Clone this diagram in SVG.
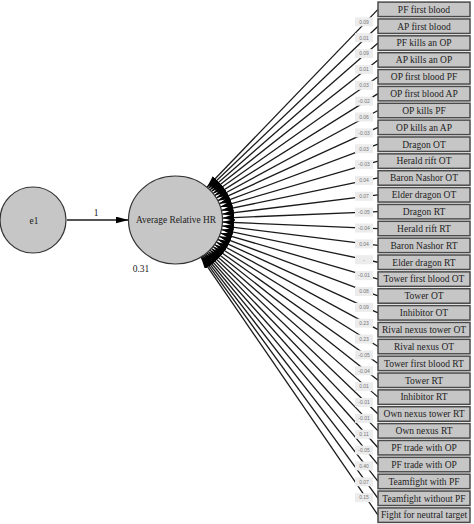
<svg xmlns="http://www.w3.org/2000/svg" width="474" height="524" viewBox="0 0 474 524">
<style>
.bg{fill:#ffffff}
.box rect{fill:#c6c6c6;stroke:#4a4a4a;stroke-width:1.5}
.box text{font-family:"Liberation Serif","Times New Roman",serif;font-size:9.5px;fill:#222;text-anchor:middle}
.circ{fill:#c6c6c6;stroke:#333;stroke-width:1.2}
.ntext{font-family:"Liberation Serif","Times New Roman",serif;font-size:9.4px;fill:#222;text-anchor:middle}
.conn line{stroke:#1a1a1a;stroke-width:1.3;marker-end:url(#ah)}
.lab rect{fill:#ececec}
.lab text{font-family:"Liberation Sans",Arial,sans-serif;font-size:5px;fill:#777;text-anchor:middle}
</style>
<defs>
<marker id="ah" markerUnits="userSpaceOnUse" viewBox="0 0 12 7" refX="12" refY="3.5" markerWidth="12" markerHeight="7" orient="auto">
<path d="M0,0 L12,3.5 L0,7 z" fill="#000"/>
</marker>
<marker id="ah2" markerUnits="userSpaceOnUse" viewBox="0 0 13 7" refX="13" refY="3.5" markerWidth="13" markerHeight="7" orient="auto">
<path d="M0,0 L13,3.5 L0,7 z" fill="#000"/>
</marker>
</defs>
<rect class="bg" width="474" height="524"/>

<g id="connectors" class="conn">
<line x1="67" y1="220" x2="128.5" y2="220" style="marker-end:url(#ah2)"/>
<line x1="378" y1="9.35" x2="206.94" y2="187.29"/>
<line x1="378" y1="26.21" x2="208.37" y2="188.55"/>
<line x1="378" y1="43.07" x2="209.86" y2="189.98"/>
<line x1="378" y1="59.93" x2="211.41" y2="191.61"/>
<line x1="378" y1="76.79" x2="213.0" y2="193.48"/>
<line x1="378" y1="93.65" x2="214.61" y2="195.60"/>
<line x1="378" y1="110.51" x2="216.2" y2="197.99"/>
<line x1="378" y1="127.37" x2="217.73" y2="200.68"/>
<line x1="378" y1="144.23" x2="219.14" y2="203.67"/>
<line x1="378" y1="161.09" x2="220.38" y2="206.94"/>
<line x1="378" y1="177.95" x2="221.38" y2="210.47"/>
<line x1="378" y1="194.81" x2="222.09" y2="214.20"/>
<line x1="378" y1="211.67" x2="222.45" y2="218.07"/>
<line x1="378" y1="228.53" x2="222.45" y2="221.98"/>
<line x1="378" y1="245.39" x2="222.08" y2="225.84"/>
<line x1="378" y1="262.25" x2="221.38" y2="229.57"/>
<line x1="378" y1="279.11" x2="220.37" y2="233.10"/>
<line x1="378" y1="295.97" x2="219.13" y2="236.37"/>
<line x1="378" y1="312.83" x2="217.71" y2="239.35"/>
<line x1="378" y1="329.69" x2="216.18" y2="242.04"/>
<line x1="378" y1="346.55" x2="214.59" y2="244.43"/>
<line x1="378" y1="363.41" x2="212.98" y2="246.55"/>
<line x1="378" y1="380.27" x2="211.39" y2="248.41"/>
<line x1="378" y1="397.13" x2="209.84" y2="250.04"/>
<line x1="378" y1="413.99" x2="208.35" y2="251.47"/>
<line x1="378" y1="430.85" x2="206.92" y2="252.72"/>
<line x1="378" y1="447.71" x2="205.57" y2="253.81"/>
<line x1="378" y1="464.57" x2="204.29" y2="254.78"/>
<line x1="378" y1="481.43" x2="203.09" y2="255.62"/>
<line x1="378" y1="498.29" x2="201.96" y2="256.36"/>
<line x1="378" y1="515.15" x2="200.90" y2="257.02"/>
</g>

<text class="ntext" x="96" y="215.5" style="font-size:9.5px">1</text>
<text class="ntext" x="141" y="272" style="font-size:9.5px">0.31</text>

<g id="labels" class="lab">
<g transform="translate(364,21.83)"><rect x="-9" y="-4.5" width="18" height="9"/><text y="1.8">0.09</text></g>
<g transform="translate(364,37.69)"><rect x="-9" y="-4.5" width="18" height="9"/><text y="1.8">0.01</text></g>
<g transform="translate(364,53.56)"><rect x="-9" y="-4.5" width="18" height="9"/><text y="1.8">0.09</text></g>
<g transform="translate(364,69.42)"><rect x="-9" y="-4.5" width="18" height="9"/><text y="1.8">0.01</text></g>
<g transform="translate(364,85.28)"><rect x="-9" y="-4.5" width="18" height="9"/><text y="1.8">0.03</text></g>
<g transform="translate(364,101.14)"><rect x="-9" y="-4.5" width="18" height="9"/><text y="1.8">-0.02</text></g>
<g transform="translate(364,117.00)"><rect x="-9" y="-4.5" width="18" height="9"/><text y="1.8">0.06</text></g>
<g transform="translate(364,132.86)"><rect x="-9" y="-4.5" width="18" height="9"/><text y="1.8">-0.03</text></g>
<g transform="translate(364,148.72)"><rect x="-9" y="-4.5" width="18" height="9"/><text y="1.8">0.03</text></g>
<g transform="translate(364,164.58)"><rect x="-9" y="-4.5" width="18" height="9"/><text y="1.8">-0.03</text></g>
<g transform="translate(364,180.44)"><rect x="-9" y="-4.5" width="18" height="9"/><text y="1.8">0.04</text></g>
<g transform="translate(364,196.30)"><rect x="-9" y="-4.5" width="18" height="9"/><text y="1.8">0.07</text></g>
<g transform="translate(364,212.16)"><rect x="-9" y="-4.5" width="18" height="9"/><text y="1.8">-0.05</text></g>
<g transform="translate(364,228.02)"><rect x="-9" y="-4.5" width="18" height="9"/><text y="1.8">-0.04</text></g>
<g transform="translate(364,243.89)"><rect x="-9" y="-4.5" width="18" height="9"/><text y="1.8">0.04</text></g>
<g transform="translate(364,259.75)"><rect x="-9" y="-4.5" width="18" height="9"/><text y="1.8">-</text></g>
<g transform="translate(364,275.61)"><rect x="-9" y="-4.5" width="18" height="9"/><text y="1.8">-0.01</text></g>
<g transform="translate(364,291.47)"><rect x="-9" y="-4.5" width="18" height="9"/><text y="1.8">0.08</text></g>
<g transform="translate(364,307.33)"><rect x="-9" y="-4.5" width="18" height="9"/><text y="1.8">0.09</text></g>
<g transform="translate(364,323.19)"><rect x="-9" y="-4.5" width="18" height="9"/><text y="1.8">0.23</text></g>
<g transform="translate(364,339.05)"><rect x="-9" y="-4.5" width="18" height="9"/><text y="1.8">0.23</text></g>
<g transform="translate(364,354.91)"><rect x="-9" y="-4.5" width="18" height="9"/><text y="1.8">-0.05</text></g>
<g transform="translate(364,370.77)"><rect x="-9" y="-4.5" width="18" height="9"/><text y="1.8">-0.04</text></g>
<g transform="translate(364,386.63)"><rect x="-9" y="-4.5" width="18" height="9"/><text y="1.8">0.01</text></g>
<g transform="translate(364,402.49)"><rect x="-9" y="-4.5" width="18" height="9"/><text y="1.8">-0.01</text></g>
<g transform="translate(364,418.35)"><rect x="-9" y="-4.5" width="18" height="9"/><text y="1.8">-0.01</text></g>
<g transform="translate(364,434.22)"><rect x="-9" y="-4.5" width="18" height="9"/><text y="1.8">0.11</text></g>
<g transform="translate(364,450.08)"><rect x="-9" y="-4.5" width="18" height="9"/><text y="1.8">-0.05</text></g>
<g transform="translate(364,465.94)"><rect x="-9" y="-4.5" width="18" height="9"/><text y="1.8">0.40</text></g>
<g transform="translate(364,481.80)"><rect x="-9" y="-4.5" width="18" height="9"/><text y="1.8">0.07</text></g>
<g transform="translate(364,497.66)"><rect x="-9" y="-4.5" width="18" height="9"/><text y="1.8">0.15</text></g>
</g>

<g id="e1">
<circle class="circ" cx="33" cy="220" r="33"/>
<text class="ntext" x="34" y="223.5">e1</text>
</g>
<g id="avg-hr">
<ellipse class="circ" cx="175.5" cy="220" rx="47" ry="44"/>
<text class="ntext" x="176" y="223.3">Average Relative HR</text>
</g>

<g id="n1" class="box" transform="translate(378,2.1)"><rect width="92" height="14.5"/><text x="46" y="10.55">PF first blood</text></g>
<g id="n2" class="box" transform="translate(378,18.96)"><rect width="92" height="14.5"/><text x="46" y="10.55">AP first blood</text></g>
<g id="n3" class="box" transform="translate(378,35.82)"><rect width="92" height="14.5"/><text x="46" y="10.55">PF kills an OP</text></g>
<g id="n4" class="box" transform="translate(378,52.68)"><rect width="92" height="14.5"/><text x="46" y="10.55">AP kills an OP</text></g>
<g id="n5" class="box" transform="translate(378,69.54)"><rect width="92" height="14.5"/><text x="46" y="10.55">OP first blood PF</text></g>
<g id="n6" class="box" transform="translate(378,86.4)"><rect width="92" height="14.5"/><text x="46" y="10.55">OP first blood AP</text></g>
<g id="n7" class="box" transform="translate(378,103.26)"><rect width="92" height="14.5"/><text x="46" y="10.55">OP kills PF</text></g>
<g id="n8" class="box" transform="translate(378,120.12)"><rect width="92" height="14.5"/><text x="46" y="10.55">OP kills an AP</text></g>
<g id="n9" class="box" transform="translate(378,136.98)"><rect width="92" height="14.5"/><text x="46" y="10.55">Dragon OT</text></g>
<g id="n10" class="box" transform="translate(378,153.84)"><rect width="92" height="14.5"/><text x="46" y="10.55">Herald rift OT</text></g>
<g id="n11" class="box" transform="translate(378,170.7)"><rect width="92" height="14.5"/><text x="46" y="10.55">Baron Nashor OT</text></g>
<g id="n12" class="box" transform="translate(378,187.56)"><rect width="92" height="14.5"/><text x="46" y="10.55">Elder dragon OT</text></g>
<g id="n13" class="box" transform="translate(378,204.42)"><rect width="92" height="14.5"/><text x="46" y="10.55">Dragon RT</text></g>
<g id="n14" class="box" transform="translate(378,221.28)"><rect width="92" height="14.5"/><text x="46" y="10.55">Herald rift RT</text></g>
<g id="n15" class="box" transform="translate(378,238.14)"><rect width="92" height="14.5"/><text x="46" y="10.55">Baron Nashor RT</text></g>
<g id="n16" class="box" transform="translate(378,255.0)"><rect width="92" height="14.5"/><text x="46" y="10.55">Elder dragon RT</text></g>
<g id="n17" class="box" transform="translate(378,271.86)"><rect width="92" height="14.5"/><text x="46" y="10.55">Tower first blood OT</text></g>
<g id="n18" class="box" transform="translate(378,288.72)"><rect width="92" height="14.5"/><text x="46" y="10.55">Tower OT</text></g>
<g id="n19" class="box" transform="translate(378,305.58)"><rect width="92" height="14.5"/><text x="46" y="10.55">Inhibitor OT</text></g>
<g id="n20" class="box" transform="translate(378,322.44)"><rect width="92" height="14.5"/><text x="46" y="10.55">Rival nexus tower OT</text></g>
<g id="n21" class="box" transform="translate(378,339.3)"><rect width="92" height="14.5"/><text x="46" y="10.55">Rival nexus OT</text></g>
<g id="n22" class="box" transform="translate(378,356.16)"><rect width="92" height="14.5"/><text x="46" y="10.55">Tower first blood RT</text></g>
<g id="n23" class="box" transform="translate(378,373.02)"><rect width="92" height="14.5"/><text x="46" y="10.55">Tower RT</text></g>
<g id="n24" class="box" transform="translate(378,389.88)"><rect width="92" height="14.5"/><text x="46" y="10.55">Inhibitor RT</text></g>
<g id="n25" class="box" transform="translate(378,406.74)"><rect width="92" height="14.5"/><text x="46" y="10.55">Own nexus tower RT</text></g>
<g id="n26" class="box" transform="translate(378,423.6)"><rect width="92" height="14.5"/><text x="46" y="10.55">Own nexus RT</text></g>
<g id="n27" class="box" transform="translate(378,440.46)"><rect width="92" height="14.5"/><text x="46" y="10.55">PF trade with OP</text></g>
<g id="n28" class="box" transform="translate(378,457.32)"><rect width="92" height="14.5"/><text x="46" y="10.55">PF trade with OP</text></g>
<g id="n29" class="box" transform="translate(378,474.18)"><rect width="92" height="14.5"/><text x="46" y="10.55">Teamfight with PF</text></g>
<g id="n30" class="box" transform="translate(378,491.04)"><rect width="92" height="14.5"/><text x="46" y="10.55">Teamfight without PF</text></g>
<g id="n31" class="box" transform="translate(378,507.9)"><rect width="92" height="14.5"/><text x="46" y="10.55">Fight for neutral target</text></g>
</svg>
